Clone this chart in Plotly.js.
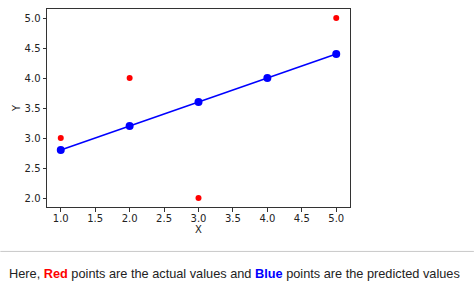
<!DOCTYPE html>
<html><head><meta charset="utf-8">
<script src="https://cdn.plot.ly/plotly-3.0.1.min.js"></script>
<style>body{margin:0;padding:0;background:#fff}#c{width:474px;height:290px}</style>
</head><body><div id="c"></div>
<script>
const actualX = [1, 2, 3, 5];
const actualY = [3, 4, 2, 5];
const predX = [1, 2, 3, 4, 5];
const predY = [2.8, 3.2, 3.6, 4.0, 4.4];
const xTicks = [1.0, 1.5, 2.0, 2.5, 3.0, 3.5, 4.0, 4.5, 5.0];
const yTicks = [2.0, 2.5, 3.0, 3.5, 4.0, 4.5, 5.0];
const caption = "Here, <b><span style='color:#ff0000'>Red</span></b> points are the actual values and <b><span style='color:#0000ff'>Blue</span></b> points are the predicted values";

const L = 46.7, R = 124, T = 9.3, B = 83.3, W = 474, H = 290;
const pw = W - L - R, ph = H - T - B;
const px = v => (v - L) / pw;
const py = v => (H - B - v) / ph;

const tickFont = {family: 'DejaVu Sans', size: 10, color: '#222'};
const data = [
  {x: actualX, y: actualY, mode: 'markers', type: 'scatter',
   marker: {color: '#ff0000', size: 6}, hoverinfo: 'none'},
  {x: predX, y: predY, mode: 'lines+markers', type: 'scatter',
   line: {color: '#0000ff', width: 1.5}, marker: {color: '#0000ff', size: 8}, hoverinfo: 'none'}
];
const layout = {
  width: W, height: H, showlegend: false,
  paper_bgcolor: '#fff', plot_bgcolor: '#fff',
  margin: {l: L, r: R, t: T, b: B, pad: 0},
  xaxis: {range: [0.8, 5.2], tickvals: xTicks, ticktext: xTicks.map(v => v.toFixed(1)),
    showgrid: false, zeroline: false, showline: true, mirror: true, linecolor: '#333', linewidth: 1,
    ticks: 'outside', ticklen: 3.5, tickcolor: '#333', tickfont: tickFont, ticklabelstandoff: -2,
    title: {text: 'X', font: tickFont, standoff: 2}},
  yaxis: {range: [1.85, 5.15], tickvals: yTicks, ticktext: yTicks.map(v => v.toFixed(1)),
    showgrid: false, zeroline: false, showline: true, mirror: true, linecolor: '#333', linewidth: 1,
    ticks: 'outside', ticklen: 3.5, tickcolor: '#333', tickfont: tickFont,
    title: {text: 'Y', font: tickFont, standoff: 2}},
  shapes: [{type: 'line', xref: 'paper', yref: 'paper', x0: px(0), x1: px(W), y0: py(251), y1: py(251),
    line: {color: '#c8c8c8', width: 1}}],
  annotations: [{xref: 'paper', yref: 'paper', x: px(7), y: py(273), xanchor: 'left', yanchor: 'middle',
    showarrow: false, text: caption, font: {family: 'Liberation Sans, Arial', size: 12.75, color: '#222'}}]
};
Plotly.newPlot('c', data, layout, {staticPlot: true});
</script></body></html>
